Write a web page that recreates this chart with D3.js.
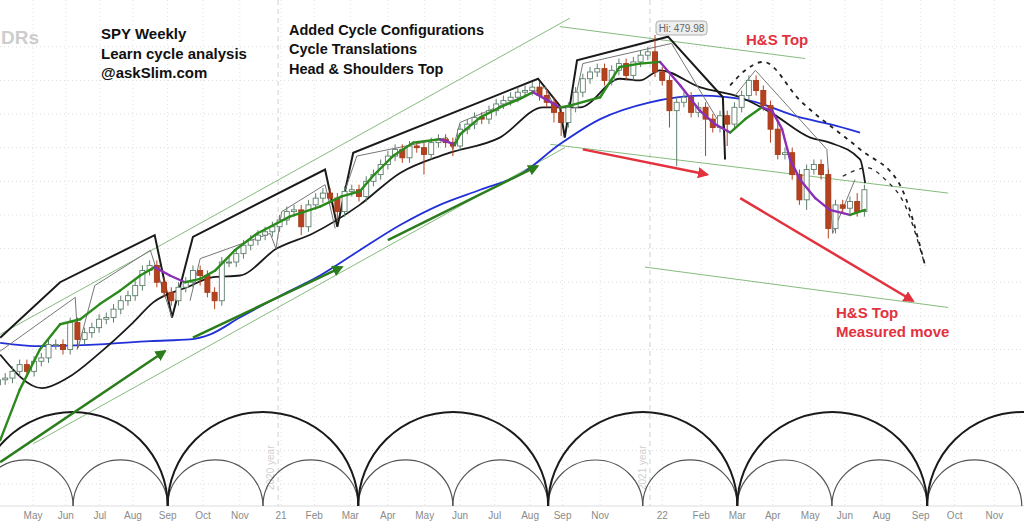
<!DOCTYPE html>
<html>
<head>
<meta charset="utf-8">
<script src="https://cdn.jsdelivr.net/npm/d3@7"></script>
<style>
  body { margin: 0; background: #fff; }
  text { font-family: "Liberation Sans", Arial, sans-serif; }
</style>
</head>
<body>
<svg id="chart" width="1024" height="522"></svg>
<script>
// weekly closes, week 0 = early Apr 2020
const closes = [275,276,280,284,280,286,288,296,296,293,309,299,303,306,311,312,317,322,325,331,
  340,343,333,327,322,330,333,340,337,327,322,345,345,350,355,358,361,363,366,370,
  375,376,366,379,383,386,383,375,387,388,384,393,397,403,408,412,407,414,413,409,
  416,418,416,414,424,427,431,430,435,439,441,443,446,447,449,444,440,434,428,437,
  446,454,458,460,453,459,463,456,464,468,470,458,453,435,440,443,434,437,430,425,
  432,427,437,444,453,447,438,424,409,410,397,382,400,403,397,365,379,377,381,375,388];
const hiW = [3,3,3,3,3,3,3,3,3,3,3,3,3,3,3,3,3,3,3,3,
  3,3,3,3,3,3,3,3,3,3,3,3,3,3,3,3,3,3,3,3,
  3,3,3,3,3,3,3,3,3,3,3,3,3,3,3,3,3,3,3,3,
  3,3,3,3,3,3,3,3,3,3,3,3,3,3,3,3,3,3,3,3,
  3,3,3,3,3,3,3,3,3,3,3,10,3,3,3,3,3,3,3,3,
  3,3,3,3,3,3,3,3,6,3,3,3,3,3,3,3,3,3,3,5,3];
const loW = [4,3,3,3,3,3,3,3,3,3,3,6,3,3,3,3,3,3,3,3,
  3,3,3,3,3,3,3,3,6,3,5,3,3,3,3,3,3,3,3,3,
  3,3,5,3,3,3,3,6,3,3,3,3,3,3,3,3,3,3,3,12,
  3,3,3,6,3,3,3,3,3,3,3,3,3,3,3,3,3,6,8,3,
  3,3,3,3,3,3,3,3,3,3,3,3,3,10,33,3,3,3,22,3,
  3,13,3,3,3,3,3,8,3,3,3,3,6,3,3,6,3,3,3,3,3];

// smoothed cycle line [week, value]
const cycleLine = [[0.3,239],[3,269],[5.8,293],[8.6,308],[11.4,311],[14.1,320],[16.9,328],[19.7,337],[21.7,342],
  [23.8,337],[25.9,333],[28,335],[30.1,340],[32.8,352],[35.9,362],[40.4,372],[44.6,378],[47.6,384],[50.1,387],
  [51.9,396],[54.7,408],[57.5,416],[61.2,418],[63.3,415],[64,421],[66.8,431],[69.5,437],[72.3,442],[74.1,446],
  [76.2,441],[77.8,437],[79.2,438],[83.4,443],[86.1,461],[88.9,463],[91.7,464],[94.5,450],[97.2,435],[99.3,427],
  [101.4,422],[103.5,430],[105.8,437],[107.2,435],[108.6,424],[109.7,406],[111.1,394],[113.2,383],[115.2,376],
  [118,373],[120.1,376]];
const longAvg = [[0.3,297],[5.8,295],[14.1,296],[21.1,298],[26.6,299],[29.4,302],[33.5,312],[39.1,325],[44.6,337],
  [50.1,352],[55.7,367],[61.2,379],[66.8,388],[72.3,397],[77.8,415],[83.4,430],[90.3,440],[97.2,444],[104.1,441],
  [111.1,431],[115.2,427],[119.4,422]];
const upperEnv = [[0.3,300],[8.6,333],[21.7,361],[24.1,312],[27,360],[45.3,400],[47,366],[49.2,410],[74.8,454],
  [77.8,438],[78.5,419],[80.2,465],[92.8,479],[100.4,443],[100.7,406]];
const lowerEnv = [[0.3,290],[6.1,270],[9.6,276],[14.1,291],[18.7,309],[21.5,321],[26.2,330],[29.8,336],[33.5,337],
  [38.6,353],[43.6,362],[50.1,379],[55.7,398],[61.2,408],[62.6,410],[69.5,419],[75.5,437],[80.6,437],[86.1,454],
  [88.9,453],[91.7,459],[97.2,449],[102.8,443],[107,434],[112.5,419],[115.2,416],[119.4,406],[120.1,392]];
const translations = [
  [[0.3,292],[10.7,324],[11.1,294],[13.4,331],[21.1,352],[24.1,312]],
  [[26.6,322],[28,347],[37.7,362],[38.5,353],[39.3,375],[45.3,391],[46.7,365]],
  [[48.1,388],[49.7,408],[62.2,419],[63,412],[64,428],[75.8,449],[77.4,434]],
  [[79.9,441],[81,463],[93.3,475],[99.6,430]],
  [[102.1,444],[104.9,459],[114.8,412],[115.6,362],[118.7,394]]
];
const projections = [
  [[101.4,450],[103.5,459],[106,464],[111.1,441],[119.4,412],[124.9,391],[128.4,343]],
  [[117,396],[120.4,401],[122.9,394],[125.6,379],[128.4,343]]
];
const channels = [
  [[0.3,302],[79.2,490]], [[4.9,237],[78.5,413]], [[77.8,485],[111.8,466]],
  [[76.5,415],[131.6,386]], [[89.6,342],[131.6,318]]
];
const greenArrows = [[[0.3,226],[23.1,292]], [[27,300],[47.6,342]], [[54,358],[74.7,402]]];
const redArrows = [[[81,412],[98.2,397]], [[102.8,383],[126.7,322]]];
const bigTroughs = [-2.8,23.5,49.9,76.2,102.4,128.7,155];
const smallTroughs = [-2.8,10.4,23.5,36.7,49.9,63,76.2,89.3,102.4,115.5,128.7,141.8];
const tickLabels = ["May","Jun","Jul","Aug","Sep","Oct","Nov","21","Feb","Mar","Apr","May","Jun","Jul","Aug","Sep","Nov",
  "22","Feb","Mar","Apr","May","Jun","Aug","Sep","Oct","Nov"];
const tickWeeks = [4.85,9.4,14.1,18.7,23.5,28.4,33.5,39.2,43.8,48.8,54,59.1,64,68.8,73.7,78.2,83.4,
  92,97.4,102.4,107.3,112.5,117.3,122.4,127.8,132.5,138];
const yearLines = [[38.8,"2020 year"],[90.3,"2021 year"]];
const gridPrices = d3.range(213, 480, 20);

const svg = d3.select("#chart");
const width = 1024, height = 522;
const x = d3.scaleLinear().domain([0, 1]).range([-2, 5.22]);
const y = d3.scaleLinear().domain([480, 260]).range([35, 405]);
const yc = d3.scaleLinear().domain([0, 1]).range([506, 412]);

// grid
svg.append("g").selectAll("line").data(gridPrices).join("line")
  .attr("x1", 0).attr("x2", width).attr("y1", d => y(d)).attr("y2", d => y(d))
  .attr("stroke", "#dcdcdc").attr("stroke-dasharray", "1,3");
svg.append("g").selectAll("line").data(tickWeeks).join("line")
  .attr("x1", d => x(d)).attr("x2", d => x(d)).attr("y1", 0).attr("y2", 506)
  .attr("stroke", "#e2e2e2").attr("stroke-dasharray", "1,3");
yearLines.forEach(([w, t]) => {
  svg.append("line").attr("x1", x(w)).attr("x2", x(w)).attr("y1", 0).attr("y2", 506)
    .attr("stroke", "#cfcfcf").attr("stroke-dasharray", "5,4");
  svg.append("text").attr("transform", `translate(${x(w) - 4},490) rotate(-90)`)
    .attr("font-size", 10).attr("fill", "#d0d0d0").text(t);
});

// axis
svg.append("line").attr("x1", 0).attr("x2", width).attr("y1", 506).attr("y2", 506).attr("stroke", "#ddd");
svg.append("g").selectAll("text").data(tickLabels).join("text")
  .attr("x", (d, i) => x(tickWeeks[i])).attr("y", 519).attr("text-anchor", "middle")
  .attr("font-size", 10).attr("fill", "#8a8a8a").text(d => d);

// logo
svg.append("text").attr("x", 1).attr("y", 44).attr("font-size", 19).attr("font-weight", "bold")
  .attr("fill", "#cdcdcd").text("DRs");

const line = d3.line().x(d => x(d[0])).y(d => y(d[1]));
const smooth = d3.line().x(d => x(d[0])).y(d => y(d[1])).curve(d3.curveMonotoneX);

// channels
channels.forEach(c => svg.append("path").attr("d", line(c)).attr("fill", "none")
  .attr("stroke", "#86bb7e").attr("stroke-width", 1));

// arcs
function arcs(troughs, amp, color, w) {
  for (let i = 0; i < troughs.length - 1; i++) {
    const x0 = x(troughs[i]), x1 = x(troughs[i + 1]);
    const rx = (x1 - x0) / 2, ry = yc(0) - yc(amp);
    svg.append("path").attr("d", `M${x0},${yc(0)} A${rx},${ry} 0 0 1 ${x1},${yc(0)}`)
      .attr("fill", "none").attr("stroke", color).attr("stroke-width", w);
  }
}
arcs(smallTroughs, 0.49, "#555", 1.2);
arcs(bigTroughs, 1, "#1a1a1a", 2);

// long average
svg.append("path").attr("d", smooth(longAvg)).attr("fill", "none").attr("stroke", "#2230d8").attr("stroke-width", 1.8);

// envelopes
svg.append("path").attr("d", line(upperEnv)).attr("fill", "none").attr("stroke", "#1a1a1a").attr("stroke-width", 2);
svg.append("path").attr("d", smooth(lowerEnv)).attr("fill", "none").attr("stroke", "#1a1a1a").attr("stroke-width", 1.8);
translations.forEach(t => svg.append("path").attr("d", line(t)).attr("fill", "none")
  .attr("stroke", "#777").attr("stroke-width", 1));
projections.forEach((p, i) => svg.append("path").attr("d", smooth(p)).attr("fill", "none")
  .attr("stroke", "#222").attr("stroke-width", i ? 1.3 : 1.8).attr("stroke-dasharray", "4,5"));

// candles
const candles = closes.map((c, i) => {
  const o = i ? closes[i - 1] : 272;
  return { i, o, c, h: Math.max(o, c) + hiW[i], l: Math.min(o, c) - loW[i] };
});
const cw = 5;
const cg = svg.append("g");
cg.selectAll("line").data(candles).join("line")
  .attr("x1", d => x(d.i)).attr("x2", d => x(d.i)).attr("y1", d => y(d.h)).attr("y2", d => y(d.l))
  .attr("stroke", d => d.c < d.o ? "#b4421f" : "#5f7f6c").attr("stroke-width", 1);
cg.selectAll("rect").data(candles).join("rect")
  .attr("x", d => x(d.i) - cw / 2).attr("width", cw)
  .attr("y", d => y(Math.max(d.o, d.c))).attr("height", d => Math.max(1, Math.abs(y(d.o) - y(d.c))))
  .attr("fill", d => d.c < d.o ? "#b4421f" : "#fff")
  .attr("stroke", d => d.c < d.o ? "#a53a1a" : "#5f7f6c").attr("stroke-width", 0.9);

// cycle line coloured by direction
for (let i = 0; i < cycleLine.length - 1; i++) {
  const a = cycleLine[i], b = cycleLine[i + 1];
  svg.append("path").attr("d", line([a, b])).attr("fill", "none")
    .attr("stroke", b[1] < a[1] ? "#8b2fb5" : "#2a8a1c").attr("stroke-width", 2.4)
    .attr("stroke-linecap", "round");
}

// arrows
const defs = svg.append("defs");
[["ga", "#2b7d1c"], ["ra", "#e2323e"]].forEach(([id, col]) => {
  defs.append("marker").attr("id", id).attr("viewBox", "0 0 10 10").attr("refX", 8).attr("refY", 5)
    .attr("markerWidth", 4.5).attr("markerHeight", 4.5).attr("orient", "auto")
    .append("path").attr("d", "M0,0L10,5L0,10z").attr("fill", col);
});
greenArrows.forEach(a => svg.append("path").attr("d", line(a)).attr("stroke", "#2b7d1c")
  .attr("stroke-width", 2.5).attr("marker-end", "url(#ga)"));
redArrows.forEach(a => svg.append("path").attr("d", line(a)).attr("stroke", "#e2323e")
  .attr("stroke-width", 2.5).attr("marker-end", "url(#ra)"));

// Hi label
const hiC = candles[91];
svg.append("rect").attr("x", x(91) + 1).attr("y", y(hiC.h) - 14).attr("width", 51).attr("height", 14)
  .attr("rx", 3).attr("fill", "#eeeeee").attr("stroke", "#b0b0b0");
svg.append("text").attr("x", x(91) + 26.5).attr("y", y(hiC.h) - 3.5).attr("text-anchor", "middle")
  .attr("font-size", 10).attr("fill", "#666").text("Hi: 479.98");

// texts
const txt = (t, tx, ty, size, col) => svg.append("text").attr("x", tx).attr("y", ty)
  .attr("font-size", size).attr("font-weight", "bold").attr("fill", col).text(t);
txt("SPY Weekly", 101, 39, 15, "#111");
txt("Learn cycle analysis", 101, 59, 15, "#111");
txt("@askSlim.com", 101, 78, 15, "#111");
txt("Added Cycle Configurations", 289, 35, 14.5, "#111");
txt("Cycle Translations", 289, 54, 14.5, "#111");
txt("Head & Shoulders Top", 289, 74, 14.5, "#111");
txt("H&S Top", 746, 45, 15, "#e2323e");
txt("H&S Top", 836, 318, 15, "#e2323e");
txt("Measured  move", 836, 337, 15, "#e2323e");
</script>
</body>
</html>
